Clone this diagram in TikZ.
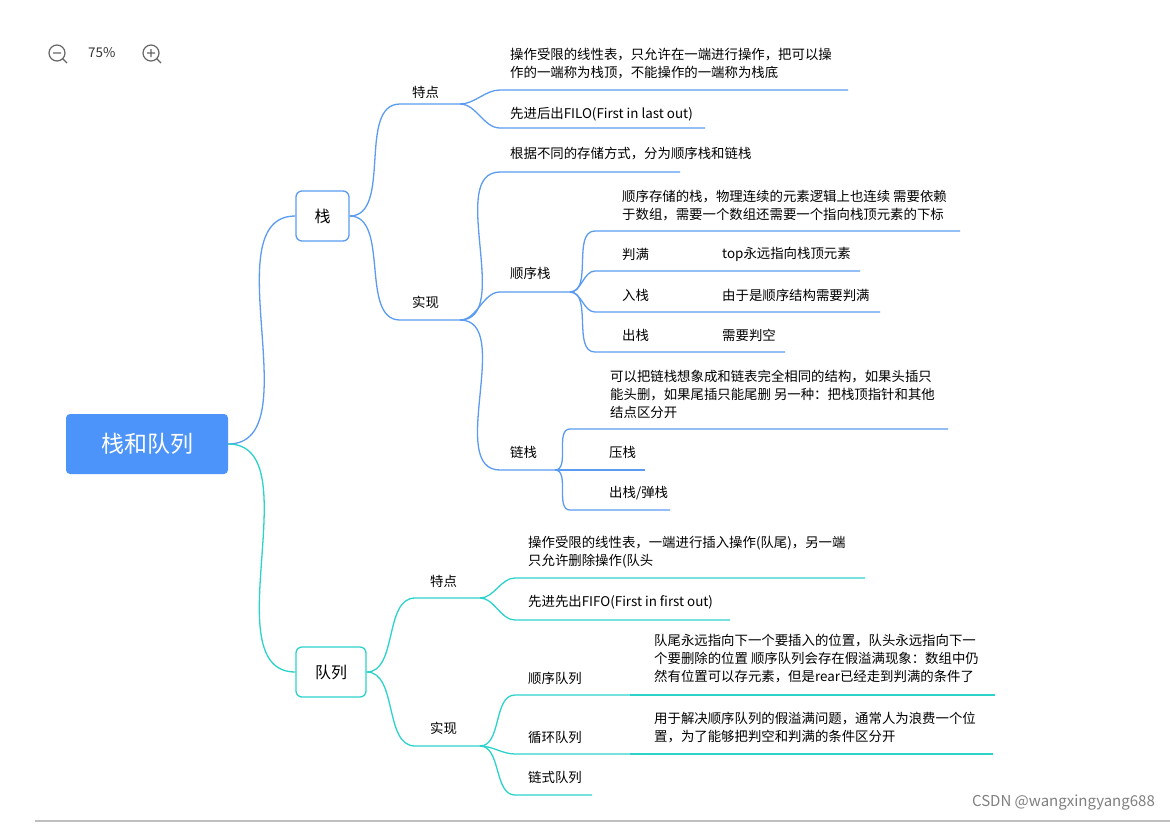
\documentclass[tikz,border=0pt]{standalone}
\usepackage{fontspec}
\setmainfont{Noto Sans CJK SC}
\begin{document}
\begin{tikzpicture}[x=1pt,y=-1pt,
  lb/.style={draw=bl,line width=1.3pt},
  lc/.style={draw=cy,line width=1.3pt},
  tx/.style={anchor=west,inner sep=0pt,font=\fontsize{13.4}{18}\selectfont,align=left},
  cv/.style={out=0,in=180,looseness=0.9}]
\definecolor{bl}{HTML}{5B9CF2}
\definecolor{cy}{HTML}{2CD3CB}
\definecolor{rootc}{HTML}{4D94FA}
\useasboundingbox[fill=white] (0,0) rectangle (1170,823);
% toolbar
\draw[gray!80!black,line width=1.2pt] (57,53) circle (8) (53,53)--(61,53) (63,59)--(67,63);
\node[tx,text=black!80] (zoom) at (88,53) {75\%};
\draw[gray!80!black,line width=1.2pt] (151,53) circle (8) (147,53)--(155,53) (151,49)--(151,57) (157,59)--(161,63);
% main nodes
\node[fill=rootc,rounded corners=4pt,minimum width=162pt,minimum height=60pt,text=white,font=\fontsize{23}{26}\selectfont] (root) at (147,444) {栈和队列};
\node[draw=bl,line width=1.3pt,rounded corners=6pt,fill=white,minimum width=53pt,minimum height=50pt,font=\fontsize{16}{18}\selectfont] (st) at (322.5,216) {栈};
\node[draw=cy,line width=1.3pt,rounded corners=6pt,fill=white,minimum width=70pt,minimum height=50pt,font=\fontsize{16}{18}\selectfont] (qu) at (331,672) {队列};
\draw[lb] (root.east) to[cv] (st.west);
\draw[lc] (root.east) to[cv] (qu.west);
% ---- stack
\node[tx] (s1) at (412,92) {特点};
\coordinate (s1a) at (400,104); \coordinate (s1b) at (460,104);
\node[tx] (s2) at (412,302) {实现};
\coordinate (s2a) at (400,320); \coordinate (s2b) at (460,320);
\draw[lb] (st.east) to[cv] (s1a) -- (s1b);
\draw[lb] (st.east) to[cv] (s2a) -- (s2b);
\node[tx] (s11) at (510,64) {操作受限的线性表，只允许在一端进行操作，把可以操\\作的一端称为栈顶，不能操作的一端称为栈底};
\coordinate (s11a) at (500,90); \coordinate (s11b) at (848,90);
\node[tx] (s12) at (510,114) {先进后出FILO(First in last out)};
\coordinate (s12a) at (500,128); \coordinate (s12b) at (705,128);
\draw[lb] (s1b) to[cv] (s11a) -- (s11b);
\draw[lb] (s1b) to[cv] (s12a) -- (s12b);
\node[tx] (s21) at (510,154) {根据不同的存储方式，分为顺序栈和链栈};
\coordinate (s21a) at (500,172); \coordinate (s21b) at (680,172);
\node[tx] (s22) at (510,273) {顺序栈};
\coordinate (s22a) at (500,292); \coordinate (s22b) at (570,292);
\node[tx] (s23) at (510,452) {链栈};
\coordinate (s23a) at (500,470); \coordinate (s23b) at (555,470);
\draw[lb] (s2b) to[cv] (s21a) -- (s21b);
\draw[lb] (s2b) to[cv] (s22a) -- (s22b);
\draw[lb] (s2b) to[cv] (s23a) -- (s23b);
\node[tx] (q0) at (622,206) {顺序存储的栈，物理连续的元素逻辑上也连续 需要依赖\\于数组，需要一个数组还需要一个指向栈顶元素的下标};
\coordinate (q0a) at (595,231); \coordinate (q0b) at (960,231);
\node[tx] (q1) at (622,254) {判满}; \node[tx] (q1t) at (722,254) {top永远指向栈顶元素};
\coordinate (q1a) at (595,271); \coordinate (q1b) at (860,271);
\node[tx] (q2) at (622,295) {入栈}; \node[tx] (q2t) at (722,295) {由于是顺序结构需要判满};
\coordinate (q2a) at (595,312); \coordinate (q2b) at (880,312);
\node[tx] (q3) at (622,335) {出栈}; \node[tx] (q3t) at (722,335) {需要判空};
\coordinate (q3a) at (595,352); \coordinate (q3b) at (785,352);
\foreach \c in {q0,q1,q2,q3} \draw[lb] (s22b) to[cv] (\c a) -- (\c b);
\node[tx] (l0) at (610,394) {可以把链栈想象成和链表完全相同的结构，如果头插只\\能头删，如果尾插只能尾删 另一种：把栈顶指针和其他\\结点区分开};
\coordinate (l0a) at (570,429); \coordinate (l0b) at (948,429);
\node[tx] (l1) at (609,452) {压栈};
\coordinate (l1a) at (570,470); \coordinate (l1b) at (645,470);
\node[tx] (l2) at (609,493) {出栈/弹栈};
\coordinate (l2a) at (570,510); \coordinate (l2b) at (670,510);
\foreach \c in {l0,l1,l2} \draw[lb] (s23b) to[cv] (\c a) -- (\c b);
% ---- queue
\node[tx] (t1) at (430,581) {特点};
\coordinate (t1a) at (415,598); \coordinate (t1b) at (480,598);
\node[tx] (t2) at (430,728) {实现};
\coordinate (t2a) at (415,746); \coordinate (t2b) at (480,746);
\draw[lc] (qu.east) to[cv] (t1a) -- (t1b);
\draw[lc] (qu.east) to[cv] (t2a) -- (t2b);
\node[tx] (t11) at (528,552) {操作受限的线性表，一端进行插入操作(队尾)，另一端\\只允许删除操作(队头};
\coordinate (t11a) at (515,578); \coordinate (t11b) at (865,578);
\node[tx] (t12) at (528,602) {先进先出FIFO(First in first out)};
\coordinate (t12a) at (515,620); \coordinate (t12b) at (730,620);
\draw[lc] (t1b) to[cv] (t11a) -- (t11b);
\draw[lc] (t1b) to[cv] (t12a) -- (t12b);
\node[tx] (t21) at (528,678) {顺序队列};
\coordinate (t21a) at (515,695); \coordinate (t21b) at (630,695);
\node[tx] (t22) at (528,737) {循环队列};
\coordinate (t22a) at (515,754); \coordinate (t22b) at (630,754);
\node[tx] (t23) at (528,777) {链式队列};
\coordinate (t23a) at (515,795); \coordinate (t23b) at (592,795);
\foreach \c in {t21,t22,t23} \draw[lc] (t2b) to[cv] (\c a) -- (\c b);
\node[tx] (u1) at (654,659) {队尾永远指向下一个要插入的位置，队头永远指向下一\\个要删除的位置 顺序队列会存在假溢满现象：数组中仍\\然有位置可以存元素，但是rear已经走到判满的条件了};
\coordinate (u1b) at (995,695);
\draw[lc] (t21b) -- (u1b);
\node[tx] (u2) at (654,728) {用于解决顺序队列的假溢满问题，通常人为浪费一个位\\置，为了能够把判空和判满的条件区分开};
\coordinate (u2b) at (993,754);
\draw[lc] (t22b) -- (u2b);
% footer
\node[anchor=east,inner sep=0pt,text=gray,font=\fontsize{15}{17}\selectfont] (wm) at (1155,803) {CSDN @wangxingyang688};
\draw[gray!50,line width=1.5pt] (35,821) -- (1170,821);
\end{tikzpicture}
\end{document}
